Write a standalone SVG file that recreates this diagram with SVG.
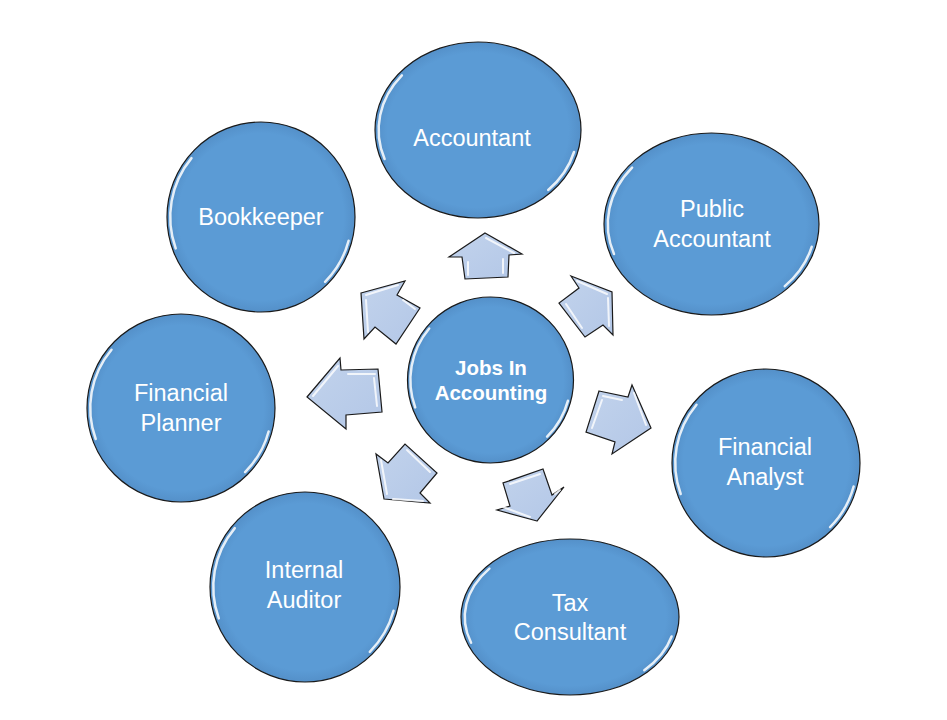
<svg xmlns="http://www.w3.org/2000/svg" width="947" height="720" viewBox="0 0 947 720">
<defs>
<radialGradient id="bg" cx="0.5" cy="0.5" r="0.5">
<stop offset="0" stop-color="#5b9bd5"/>
<stop offset="0.88" stop-color="#5b9bd5"/>
<stop offset="1" stop-color="#5490c9"/>
</radialGradient>
<linearGradient id="ag" x1="0" y1="0" x2="1" y2="1">
<stop offset="0" stop-color="#c2d3ec"/>
<stop offset="1" stop-color="#b3c7e7"/>
</linearGradient>
<filter id="soft" x="-10%" y="-10%" width="120%" height="120%">
<feGaussianBlur stdDeviation="0.5"/>
</filter>
</defs>
<style>
.bub{fill:url(#bg);stroke:#1a1a1a;stroke-width:1.2}
.hl{fill:none;stroke:#ffffff;stroke-width:2.5;stroke-linecap:round;opacity:0.85;filter:url(#soft)}
.lbl{font-family:"Liberation Sans",Arial,sans-serif;font-size:23.5px;fill:#ffffff;text-anchor:middle}
.ctr{font-family:"Liberation Sans",Arial,sans-serif;font-size:20.5px;font-weight:bold;fill:#ffffff;text-anchor:middle}
.arr{fill:url(#ag);stroke:#1a1a1a;stroke-width:1.2;stroke-linejoin:miter}
.ahl{fill:none;stroke:#ffffff;stroke-width:2;stroke-linecap:round;opacity:0.8}
</style>
<rect width="947" height="720" fill="#ffffff"/>

<g id="connectors">
<polygon class="arr" points="485,233 522,254 509,255 508,277 465,279 462,257 449,257"/>
<polygon class="arr" points="571,276 612,292 613,335 603,325 585,337 559,303 579,288"/>
<polygon class="arr" points="599,391 628,397 632,385 651,428 612,454 615,442 586,432"/>
<polygon class="arr" points="537,521 497,510 510,506 503,483 543,469 552,495 564,487"/>
<polygon class="arr" points="384,499 430,503 420,493 437,473 405,444 388,463 376,454"/>
<polygon class="arr" points="307,397 340,358 341,370 378,369 382,412 346,415 346,429"/>
<polygon class="arr" points="361,293 405,281 397,295 420,308 396,344 375,327 364,339"/>
<g class="ahl">
<path d="M486,238 L514,253"/><path d="M468,262 L468,275"/><path d="M503,259 L503,273"/>
<path d="M577,281 L607,294"/><path d="M608,298 L609,326"/><path d="M566,304 L582,328"/>
<path d="M603,396 L622,400"/><path d="M634,393 L646,425"/><path d="M592,428 L602,400"/>
<path d="M503,507 L530,517"/><path d="M510,484 L540,474"/><path d="M555,494 L560,490"/>
<path d="M381,460 L387,494"/><path d="M407,450 L430,472"/><path d="M393,499 L423,501"/>
<path d="M313,396 L338,366"/><path d="M348,374 L375,374"/><path d="M374,378 L377,406"/>
<path d="M366,295 L398,285"/><path d="M366,300 L368,332"/><path d="M403,300 L415,309"/>
</g>
</g>

<g id="node-center">
<ellipse class="bub" cx="490.5" cy="380" rx="83" ry="83"/>
<path class="hl" d="M429.2,328.5 A80.1,80.1 0 0 0 415.2,407.4"/>
<path class="hl" d="M567.9,400.8 A80.1,80.1 0 0 1 547.1,436.6"/>
<text class="ctr" x="491" y="375">Jobs In</text>
<text class="ctr" x="491" y="400">Accounting</text>
</g>

<g id="node-accountant">
<ellipse class="bub" cx="478" cy="130" rx="103" ry="88"/>
<path class="hl" d="M401.9,75.4 A99.4,84.9 0 0 0 384.6,159"/>
<path class="hl" d="M574,152 A99.4,84.9 0 0 1 548.2,190"/>
<text class="lbl" x="472" y="146">Accountant</text>
</g>

<g id="node-public-accountant">
<ellipse class="bub" cx="711.5" cy="224" rx="107.5" ry="91"/>
<path class="hl" d="M632.1,167.6 A103.7,87.8 0 0 0 614,254"/>
<path class="hl" d="M811.7,246.8 A103.7,87.8 0 0 1 784.8,286.1"/>
<text class="lbl" x="712" y="217">Public</text>
<text class="lbl" x="712" y="247">Accountant</text>
</g>

<g id="node-financial-analyst">
<ellipse class="bub" cx="766" cy="463" rx="94" ry="94"/>
<path class="hl" d="M696.5,404.7 A90.7,90.7 0 0 0 680.7,494"/>
<path class="hl" d="M853.6,486.5 A90.7,90.7 0 0 1 830.1,527.1"/>
<text class="lbl" x="765" y="455">Financial</text>
<text class="lbl" x="765" y="485">Analyst</text>
</g>

<g id="node-tax-consultant">
<ellipse class="bub" cx="570" cy="617" rx="109" ry="78"/>
<path class="hl" d="M489.4,568.6 A105.2,75.3 0 0 0 471.1,642.7"/>
<path class="hl" d="M671.6,636.5 A105.2,75.3 0 0 1 644.3,670.2"/>
<text class="lbl" x="570" y="611">Tax</text>
<text class="lbl" x="570" y="640">Consultant</text>
</g>

<g id="node-internal-auditor">
<ellipse class="bub" cx="305" cy="587" rx="95" ry="95"/>
<path class="hl" d="M234.8,528.1 A91.7,91.7 0 0 0 218.8,618.4"/>
<path class="hl" d="M393.5,610.8 A91.7,91.7 0 0 1 369.8,651.8"/>
<text class="lbl" x="304" y="578">Internal</text>
<text class="lbl" x="304" y="608">Auditor</text>
</g>

<g id="node-financial-planner">
<ellipse class="bub" cx="181" cy="408" rx="94" ry="94"/>
<path class="hl" d="M111.5,349.7 A90.7,90.7 0 0 0 95.7,439"/>
<path class="hl" d="M268.6,431.5 A90.7,90.7 0 0 1 245.1,472.1"/>
<text class="lbl" x="181" y="401">Financial</text>
<text class="lbl" x="181" y="431">Planner</text>
</g>

<g id="node-bookkeeper">
<ellipse class="bub" cx="261" cy="217" rx="94" ry="95"/>
<path class="hl" d="M191.5,158.1 A90.7,91.7 0 0 0 175.7,248.4"/>
<path class="hl" d="M348.6,240.8 A90.7,91.7 0 0 1 325.1,281.8"/>
<text class="lbl" x="261" y="225">Bookkeeper</text>
</g>
</svg>
